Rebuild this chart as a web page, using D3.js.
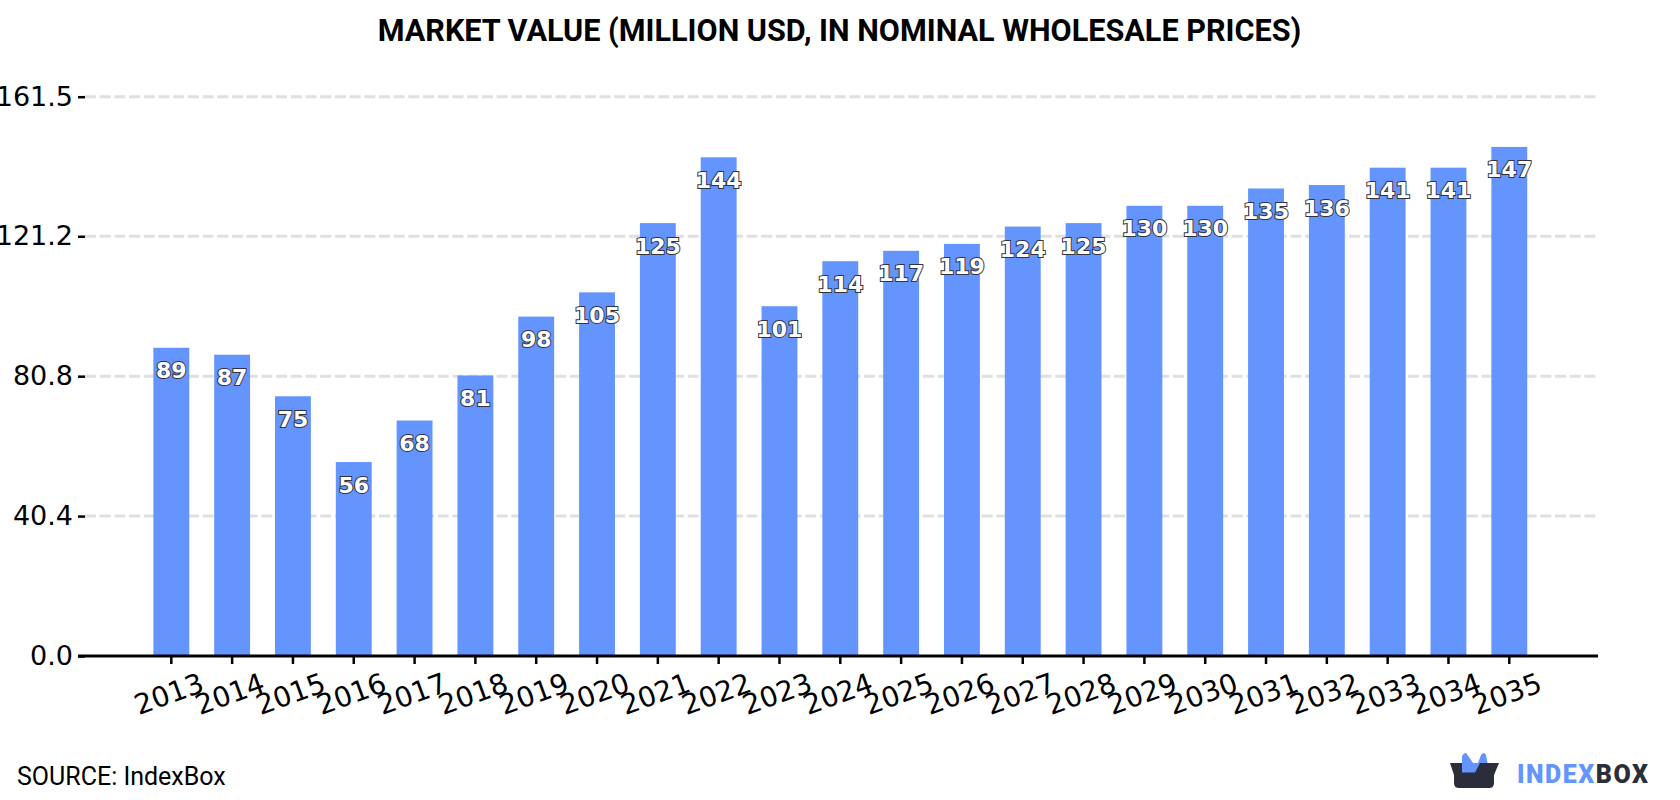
<!DOCTYPE html>
<html>
<head>
<meta charset="utf-8">
<script src="https://cdn.jsdelivr.net/npm/d3@7/dist/d3.min.js"></script>
<style>
  html, body { margin: 0; padding: 0; background: #fff; overflow: hidden; }
  svg { display: block; }
</style>
</head>
<body>
<svg id="chart" width="1680" height="800"></svg>
<script>
const chartTitle = "MARKET VALUE (MILLION USD, IN NOMINAL WHOLESALE PRICES)";
const sourceNote = "SOURCE: IndexBox";
const years = [2013, 2014, 2015, 2016, 2017, 2018, 2019, 2020, 2021, 2022, 2023, 2024,
               2025, 2026, 2027, 2028, 2029, 2030, 2031, 2032, 2033, 2034, 2035];
const marketValues = [89, 87, 75, 56, 68, 81, 98, 105, 125, 144, 101, 114,
                      117, 119, 124, 125, 130, 130, 135, 136, 141, 141, 147];
const yTicks = [0, 40.4, 80.8, 121.2, 161.5];

const BAR_COLOR = "#6495ff";
const DARK = "#2b2d3a";
const svg = d3.select("#chart");

const x = d3.scaleBand().domain(years).range([140.9, 1539.7]).paddingInner(0.41).paddingOuter(0.205);
const y = d3.scaleLinear().domain([0, 161.5]).range([656, 96.7]);
const axisLeft = 85, axisRight = 1598;

// Title
svg.append("text")
  .attr("x", 839.5).attr("y", 41)
  .attr("text-anchor", "middle")
  .attr("font-family", "Roboto").attr("font-weight", 700).attr("font-size", 30.6)
  .attr("fill", "#000")
  .text(chartTitle);

// Horizontal grid
svg.append("g").selectAll("line")
  .data(yTicks.filter(d => d > 0))
  .join("line")
  .attr("x1", axisLeft).attr("x2", axisRight)
  .attr("y1", d => y(d)).attr("y2", d => y(d))
  .attr("stroke", "#e0e0e0").attr("stroke-width", 3)
  .attr("stroke-dasharray", "11 3.7");

// Bars
svg.append("g").selectAll("rect")
  .data(years)
  .join("rect")
  .attr("x", d => x(d))
  .attr("width", x.bandwidth())
  .attr("y", (d, i) => y(marketValues[i]))
  .attr("height", (d, i) => y(0) - y(marketValues[i]))
  .attr("fill", BAR_COLOR);

// Y axis
const gy = svg.append("g")
  .attr("transform", `translate(${axisLeft},0)`)
  .call(d3.axisLeft(y).tickValues(yTicks).tickFormat(d3.format(".1f")).tickSize(7).tickPadding(5));
gy.select(".domain").remove();
gy.selectAll(".tick line").attr("stroke", "#000").attr("stroke-width", 2.5);
gy.selectAll(".tick text")
  .attr("font-family", "DejaVu Sans").attr("font-size", 27).attr("fill", "#000");

// X axis
const gx = svg.append("g")
  .attr("transform", "translate(0,656)")
  .call(d3.axisBottom(x).tickSize(8));
gx.select(".domain").remove();
gx.selectAll(".tick line").attr("stroke", "#000").attr("stroke-width", 2.5);
gx.selectAll(".tick text")
  .attr("font-family", "DejaVu Sans").attr("font-size", 28).attr("fill", "#000")
  .attr("text-anchor", "middle")
  .attr("y", 0).attr("dy", 0)
  .attr("transform", "translate(1,47) rotate(-20)");
svg.append("line")
  .attr("x1", 78).attr("x2", axisRight)
  .attr("y1", 656).attr("y2", 656)
  .attr("stroke", "#000").attr("stroke-width", 3);

// Value labels
svg.append("g").selectAll("text")
  .data(years)
  .join("text")
  .attr("x", d => x(d) + x.bandwidth() / 2)
  .attr("y", (d, i) => y(marketValues[i]) + 30.5)
  .attr("text-anchor", "middle")
  .attr("font-family", "DejaVu Sans").attr("font-weight", 700).attr("font-size", 22)
  .attr("fill", "#fff").attr("stroke", "#33333d").attr("stroke-width", 2)
  .attr("paint-order", "stroke")
  .text((d, i) => marketValues[i]);

// Source note
svg.append("text")
  .attr("x", 17).attr("y", 785)
  .attr("font-family", "Roboto").attr("font-size", 25).attr("fill", "#000")
  .text(sourceNote);

// Brand mark
const logo = svg.append("g");
logo.append("path")
  .attr("d", "M1462 773 L1462 756 Q1465 751 1467 754 L1473 763 L1478 763 L1481 755 Q1484 751 1486 755 L1488 765 L1478 773 Z")
  .attr("fill", BAR_COLOR);
logo.append("path")
  .attr("d", "M1450 763 L1462 763 L1462 772.5 L1475 772.5 L1480 763 L1499 763 L1494 775 L1494 783 Q1494 788 1489 788 L1459 788 Q1454 788 1454 783 L1454 775 Z")
  .attr("fill", DARK);
const brand = svg.append("text")
  .attr("x", 1517).attr("y", 783)
  .attr("font-family", "Roboto").attr("font-weight", 900).attr("font-size", 25)
  .attr("letter-spacing", 1.5);
brand.append("tspan").attr("fill", BAR_COLOR).text("INDEX");
brand.append("tspan").attr("fill", DARK).text("BOX");
</script>
</body>
</html>
